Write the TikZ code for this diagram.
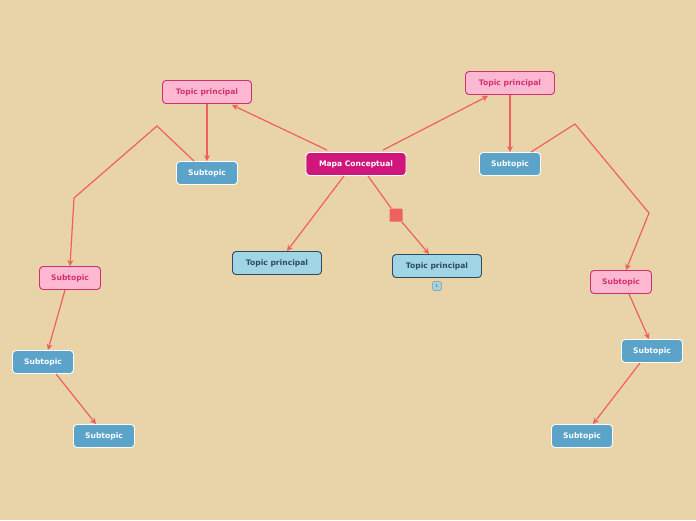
\documentclass[tikz,border=0pt]{standalone}
\usepackage{fontspec}
\setmainfont{DejaVu Sans}
\usetikzlibrary{arrows.meta}
\definecolor{bg}{HTML}{E8D4A8}
\definecolor{ln}{HTML}{F06060}
\definecolor{mainc}{HTML}{D0167A}
\definecolor{pinkf}{HTML}{FFB8D2}
\definecolor{pinkd}{HTML}{D0306F}
\definecolor{bluef}{HTML}{5BA3C8}
\definecolor{lbf}{HTML}{9FD5E5}
\definecolor{lbd}{HTML}{2F4A5A}
\begin{document}
\begin{tikzpicture}[x=1pt,y=-1pt,
 base/.style={rounded corners=3.5pt,font=\bfseries\fontsize{7.6}{8}\selectfont,inner sep=0pt,line width=0.9pt},
 mainbox/.style={base,fill=mainc,draw=white,text=white,minimum width=100pt,minimum height=23pt},
 pinkbox/.style={base,fill=pinkf,draw=pinkd,text=pinkd,minimum width=89pt,minimum height=23pt},
 pinksub/.style={pinkbox,minimum width=61pt},
 bluesub/.style={base,fill=bluef,draw=white,text=white,minimum width=61pt,minimum height=23pt},
 lbbox/.style={base,fill=lbf,draw=lbd,text=lbd,minimum width=89pt,minimum height=23pt},
 conn/.style={draw=ln,line width=1.2pt,-{Stealth[length=6pt,width=6pt]}},
 seg/.style={draw=ln,line width=1.2pt}]
\fill[bg] (0,0) rectangle (696,520);
\useasboundingbox (0,0) rectangle (696,520);
\node[mainbox] (m) at (356,164) {Mapa Conceptual};
\node[pinkbox] (t1) at (207,92) {Topic principal};
\node[pinkbox] (t2) at (510,83) {Topic principal};
\node[bluesub] (s1) at (207,173) {Subtopic};
\node[bluesub] (s2) at (510,164) {Subtopic};
\node[lbbox] (t3) at (277,263) {Topic principal};
\node[lbbox] (t4) at (437,266) {Topic principal};
\node[base,fill=lbf,draw=lbd!60,line width=0.5pt,rounded corners=2pt,minimum width=9pt,minimum height=9pt,font=\fontsize{4}{4}\selectfont,text=lbd] (bd) at (437,286) {1};
\node[pinksub] (p1) at (70,278) {Subtopic};
\node[bluesub] (b1) at (43,362) {Subtopic};
\node[bluesub] (b2) at (104,436) {Subtopic};
\node[pinksub] (p2) at (621,282) {Subtopic};
\node[bluesub] (b3) at (652,351) {Subtopic};
\node[bluesub] (b4) at (582,436) {Subtopic};
\node[fill=ln,rounded corners=1pt,minimum size=13pt,inner sep=0pt] (sq) at (396,215) {};
\coordinate (k1) at (157,126); \coordinate (k2) at (74,198);
\coordinate (k3) at (575,124); \coordinate (k4) at (649,213);
\draw[conn] ([xshift=-29pt,yshift=2pt]m.north) -- ([xshift=25pt,yshift=-1pt]t1.south);
\draw[conn] ([xshift=27pt,yshift=2pt]m.north) -- ([xshift=-22pt,yshift=-1pt]t2.south);
\draw[conn] ([xshift=-12pt]m.south) -- ([xshift=10pt]t3.north);
\draw[seg] ([xshift=12pt]m.south) -- (sq);
\draw[conn] (sq) -- ([xshift=-8pt]t4.north);
\draw[conn] (t1) -- (s1);
\draw[conn] (t2) -- (s2);
\draw[conn] ([xshift=-13pt]s1.north) -- (k1) -- (k2) -- (p1.north);
\draw[conn] ([xshift=21pt]s2.north) -- (k3) -- (k4) -- ([xshift=5pt]p2.north);
\draw[conn] ([xshift=-5pt]p1.south) -- ([xshift=5pt]b1.north);
\draw[conn] ([xshift=13pt]b1.south) -- ([xshift=-8pt]b2.north);
\draw[conn] ([xshift=8pt]p2.south) -- ([xshift=-3pt]b3.north);
\draw[conn] ([xshift=-12pt]b3.south) -- ([xshift=11pt]b4.north);
\end{tikzpicture}
\end{document}
